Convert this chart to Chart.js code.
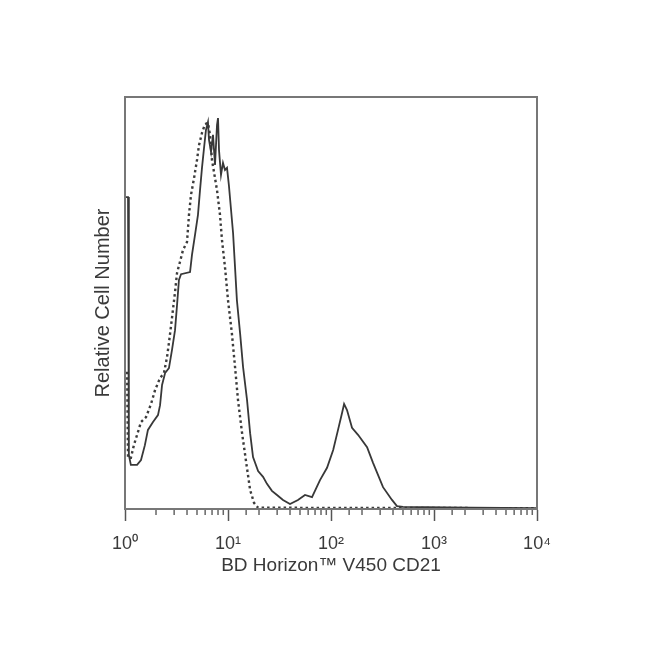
<!DOCTYPE html>
<html>
<head>
<meta charset="utf-8">
<script src="https://cdn.jsdelivr.net/npm/chart.js@4.4.1/dist/chart.umd.min.js"></script>
<style>
  body { margin: 0; background: #fff; }
  #wrap { width: 650px; height: 667px; }
</style>
</head>
<body>
<div id="wrap"><canvas id="histo"></canvas></div>
<script>
// CD21 stained sample (solid line)
var solidX = [1.02, 1.07, 1.09, 1.14, 1.31, 1.43, 1.56, 1.67, 1.87, 2.09,
    2.19, 2.29, 2.45, 2.67, 2.86, 3.06, 3.20, 3.34, 3.50, 4.28,
    4.47, 4.78, 5.11, 5.35, 5.59, 5.85, 6.11, 6.39, 6.54, 6.84,
    7.15, 7.48, 7.82, 8.00, 8.18, 8.55, 8.94, 9.35, 9.78, 10.2,
    10.5, 11.2, 11.7, 12.2, 13.1, 14.0, 15.3, 16.4, 17.5, 19.6,
    21.9, 23.9, 26.7, 29.9, 34.2, 40.0, 47.8, 55.9, 65.4, 78.2,
    91.5, 105, 117, 128, 134, 143, 160, 183, 224, 256,
    320, 391, 437, 500, 2240, 10000];
var solidY = [75.7, 75.7, 13.1, 10.7, 10.7, 11.9, 15.5, 19.2, 21.1, 22.8,
    25.2, 30.1, 33.0, 34.2, 38.6, 43.4, 49.5, 55.6, 57.0, 57.5,
    61.7, 66.5, 71.4, 77.4, 82.8, 87.6, 92.0, 93.9, 89.6, 86.7,
    90.8, 83.5, 93.2, 94.9, 87.1, 81.1, 84.0, 82.3, 82.8, 78.6,
    75.0, 67.0, 58.7, 50.7, 42.7, 34.5, 26.5, 18.4, 12.6, 9.2,
    7.8, 6.1, 4.4, 3.4, 2.2, 1.2, 2.2, 3.4, 2.9, 7.0,
    10.0, 14.3, 19.2, 23.3, 25.5, 24.0, 19.7, 18.0, 15.0, 11.2,
    5.3, 2.2, 0.7, 0.5, 0.3, 0.2];

// isotype control (dotted line)
var dotX = [1.02, 1.05, 1.07, 1.14, 1.22, 1.31, 1.43, 1.60, 1.79, 1.96,
    2.19, 2.39, 2.56, 2.67, 2.86, 3.06, 3.20, 3.42, 3.66, 4.00,
    4.18, 4.37, 4.68, 5.00, 5.23, 5.59, 5.98, 6.39, 6.69, 6.99,
    7.31, 7.82, 8.36, 8.74, 9.35, 10.0, 10.9, 11.7, 12.5, 13.7,
    15.0, 16.4, 17.9, 19.6, 10000];
var dotY = [33.0, 33.0, 12.4, 12.4, 15.5, 18.0, 21.1, 22.3, 25.5, 28.9,
    31.8, 33.0, 36.9, 40.3, 46.4, 52.7, 57.3, 60.0, 62.9, 64.8,
    71.4, 76.2, 80.3, 84.7, 88.3, 91.3, 93.4, 93.7, 90.8, 84.7,
    81.8, 77.4, 71.4, 65.3, 58.7, 50.7, 42.7, 34.5, 26.5, 18.4,
    11.4, 4.6, 1.5, 0.3, 0.2];

var decadeLabels = ['10\u2070', '10\u00B9', '10\u00B2', '10\u00B3', '10\u2074'];

function pts(xs, ys) {
    return xs.map(function (x, i) { return { x: x, y: ys[i] }; });
}

// box round the plot + short minor ticks under the axis
var framePlugin = {
    id: 'frame',
    afterDraw: function (chart) {
        var ctx = chart.ctx;
        var a = chart.chartArea;
        var sx = chart.scales.x;
        ctx.save();
        ctx.strokeStyle = '#666';
        ctx.lineWidth = 1.5;
        sx.ticks.forEach(function (t) {
            if (t.major) return;
            var px = sx.getPixelForValue(t.value);
            ctx.beginPath();
            ctx.moveTo(px, a.bottom);
            ctx.lineTo(px, a.bottom + 6);
            ctx.stroke();
        });
        ctx.strokeStyle = '#777';
        ctx.lineWidth = 2;
        ctx.strokeRect(a.left, a.top, a.right - a.left, a.bottom - a.top);
        ctx.restore();
    }
};

var ctx = document.getElementById('histo').getContext('2d');
var chart = new Chart(ctx, {
    type: 'line',
    data: {
        datasets: [{
            label: 'CD21',
            data: pts(solidX, solidY),
            borderColor: '#383838',
            borderWidth: 1.8,
            pointRadius: 0,
            tension: 0,
            fill: false
        }, {
            label: 'Isotype',
            data: pts(dotX, dotY),
            borderColor: '#3c3c3c',
            borderWidth: 2.4,
            borderDash: [2.5, 3],
            pointRadius: 0,
            tension: 0,
            fill: false
        }]
    },
    plugins: [framePlugin],
    options: {
        responsive: true,
        maintainAspectRatio: false,
        animation: false,
        layout: { padding: { left: 90, top: 97, right: 113, bottom: 86 } },
        plugins: {
            legend: { display: false },
            tooltip: { enabled: false }
        },
        scales: {
            x: {
                type: 'logarithmic',
                min: 1,
                max: 10000,
                afterFit: function (scale) { scale.height = 72; },
                border: { display: true, color: '#666', width: 2 },
                grid: {
                    display: true,
                    drawOnChartArea: false,
                    drawTicks: true,
                    tickLength: 12,
                    tickWidth: 1.5,
                    tickColor: function (c) { return c.tick && c.tick.major ? '#555' : 'rgba(0,0,0,0)'; }
                },
                ticks: {
                    autoSkip: false,
                    maxRotation: 0,
                    padding: 12,
                    color: '#3a3a3a',
                    font: { family: 'Liberation Sans', size: 18 },
                    callback: function (value) {
                        var e = Math.round(Math.log10(value));
                        return Math.abs(Math.pow(10, e) - value) < 1e-6 ? decadeLabels[e] : '';
                    }
                },
                title: {
                    display: true,
                    text: 'BD Horizon\u2122 V450 CD21',
                    color: '#3a3a3a',
                    font: { family: 'Liberation Sans', size: 19 },
                    padding: { top: 0, bottom: 4 }
                }
            },
            y: {
                min: 0,
                max: 100,
                afterFit: function (scale) { scale.width = 35; },
                border: { display: true, color: '#777', width: 2 },
                grid: { display: false, drawTicks: false },
                ticks: { display: false },
                title: {
                    display: true,
                    text: 'Relative Cell Number',
                    color: '#3a3a3a',
                    font: { family: 'Liberation Sans', size: 20 },
                    padding: { top: 1, bottom: 0 }
                }
            }
        }
    }
});
</script>
</body>
</html>
